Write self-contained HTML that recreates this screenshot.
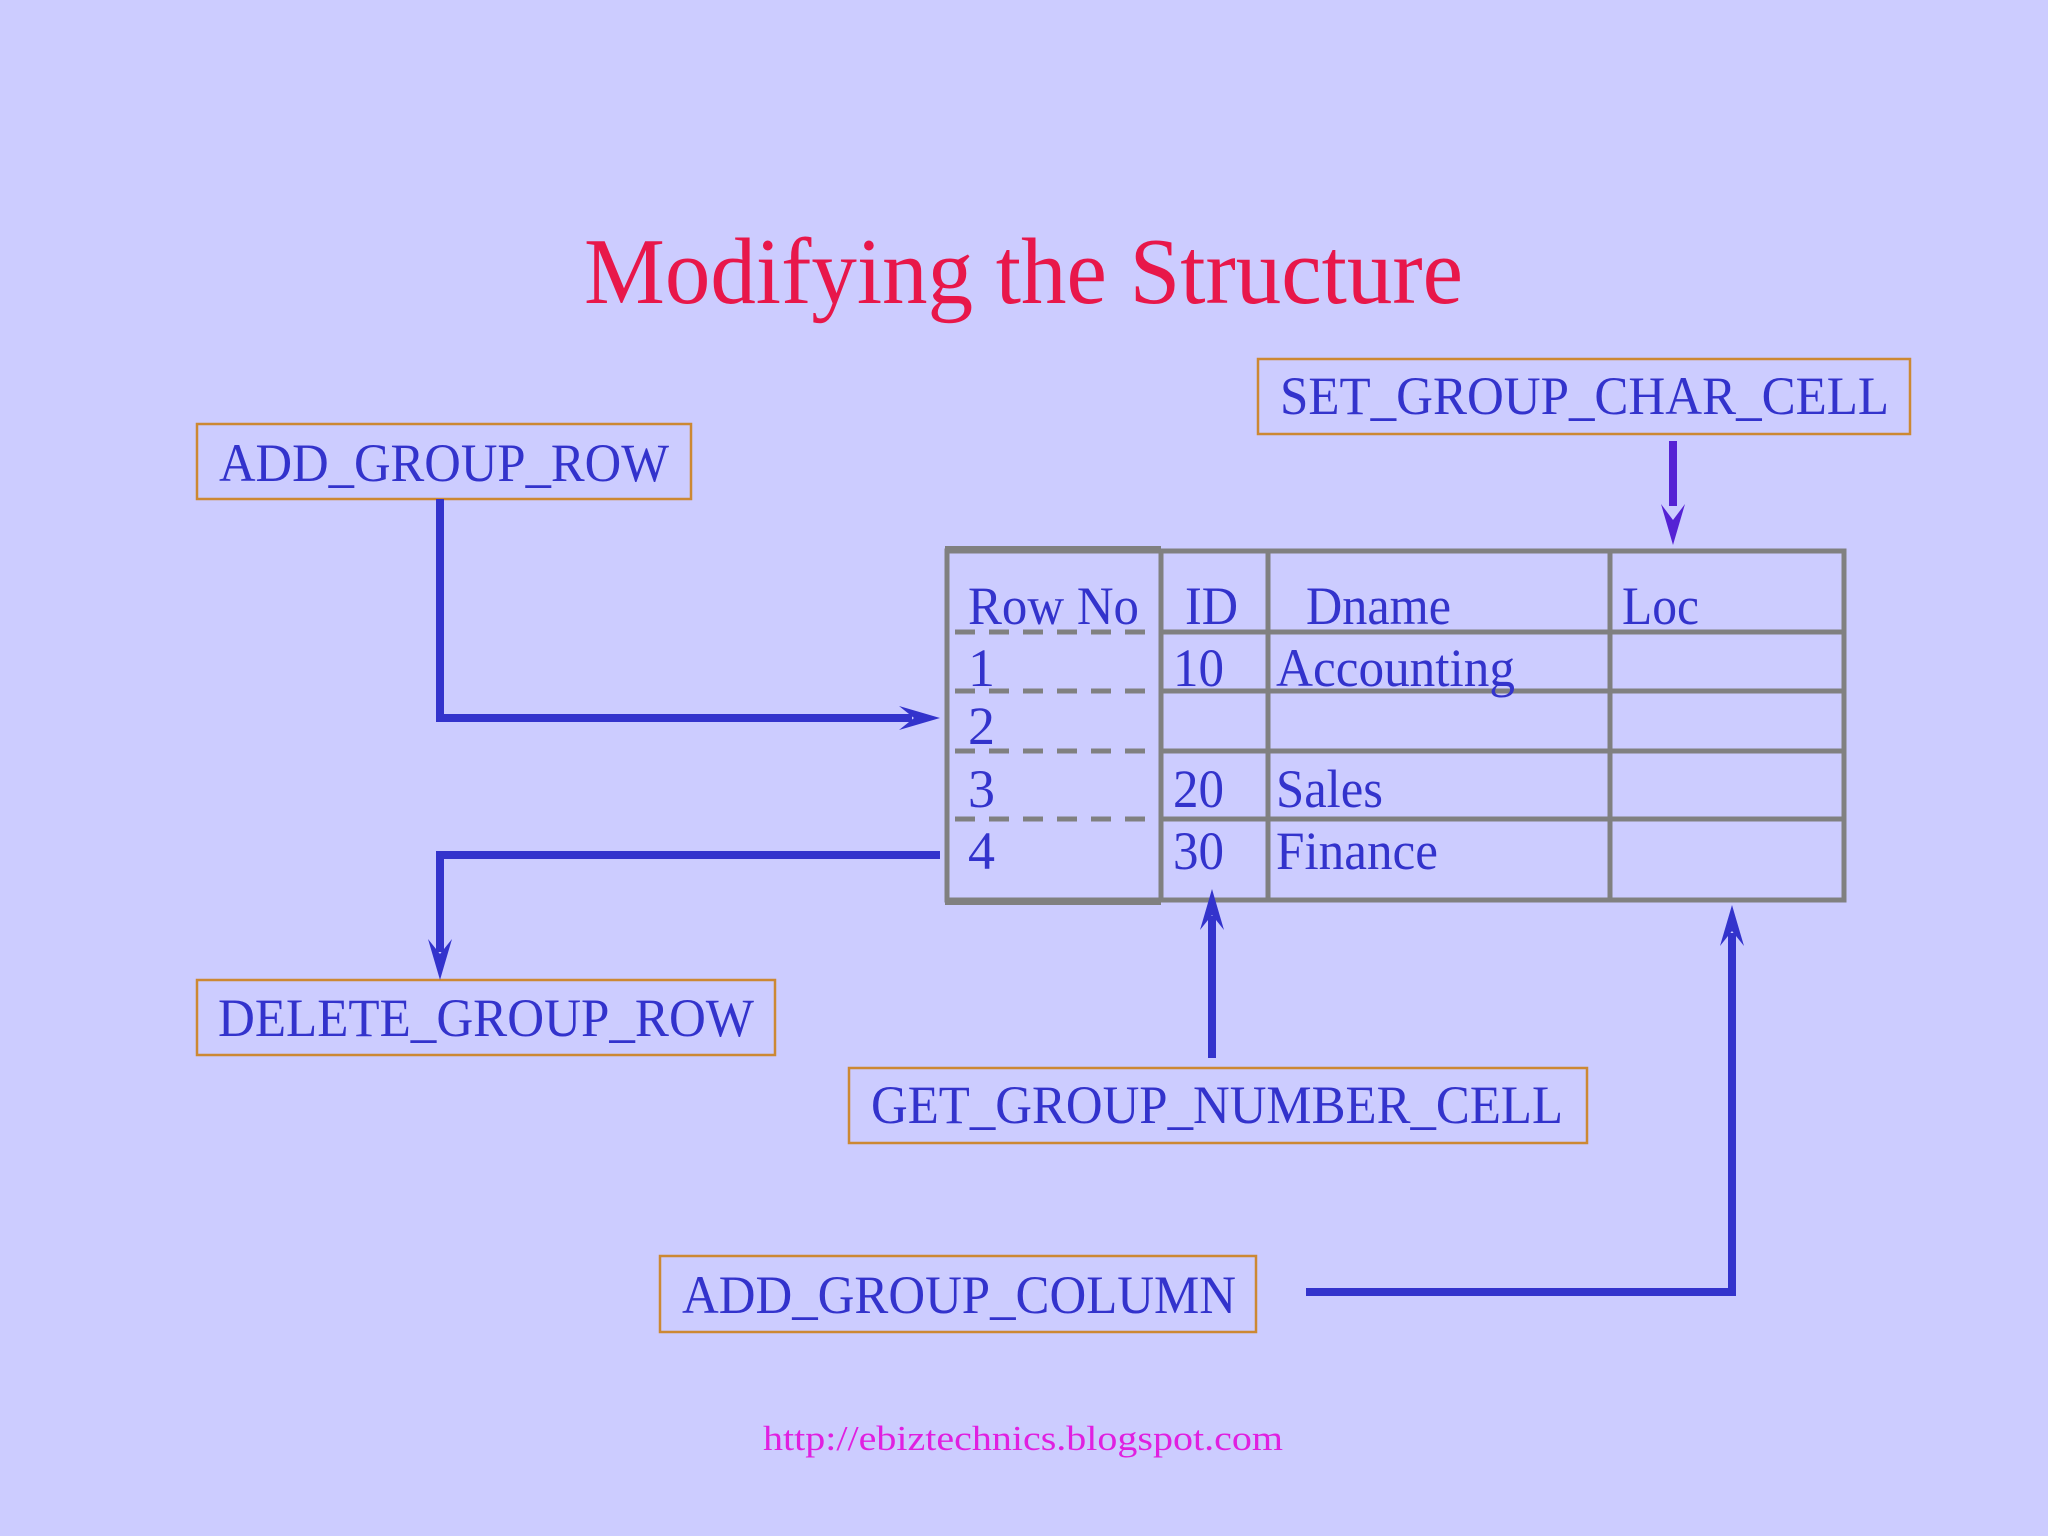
<!DOCTYPE html>
<html><head><meta charset="utf-8"><style>
html,body{margin:0;padding:0;background:#ccccff;}
svg{display:block;}
text{font-family:"Liberation Serif",serif;}
</style></head><body>
<svg width="2048" height="1536" viewBox="0 0 2048 1536" xmlns="http://www.w3.org/2000/svg">
<rect width="2048" height="1536" fill="#ccccff"/>
<text x="584" y="303" font-size="94" fill="#e8174a" textLength="879" lengthAdjust="spacingAndGlyphs">Modifying the Structure</text>

<g fill="none" stroke="#cc8833" stroke-width="2.5">
<rect x="1258" y="359" width="652" height="75"/>
<rect x="197" y="424" width="494" height="75"/>
<rect x="197" y="980" width="578" height="75"/>
<rect x="849" y="1068" width="738" height="75"/>
<rect x="660" y="1256" width="596" height="76"/>
</g>
<g fill="#3333cc" font-size="54">
<text x="1280" y="414" textLength="609" lengthAdjust="spacingAndGlyphs">SET_GROUP_CHAR_CELL</text>
<text x="219" y="481" textLength="450" lengthAdjust="spacingAndGlyphs">ADD_GROUP_ROW</text>
<text x="218" y="1036" textLength="536" lengthAdjust="spacingAndGlyphs">DELETE_GROUP_ROW</text>
<text x="871" y="1123" textLength="692" lengthAdjust="spacingAndGlyphs">GET_GROUP_NUMBER_CELL</text>
<text x="682" y="1313" textLength="554" lengthAdjust="spacingAndGlyphs">ADD_GROUP_COLUMN</text>
</g>

<!-- table -->
<g stroke="#808080" stroke-width="5" fill="none">
<rect x="947" y="551" width="897" height="349"/>
<line x1="945" y1="549" x2="1161" y2="549" stroke-width="6"/>
<line x1="945" y1="902" x2="1161" y2="902" stroke-width="6"/>
<line x1="1161" y1="549" x2="1161" y2="902"/>
<line x1="1268" y1="551" x2="1268" y2="900"/>
<line x1="1610" y1="551" x2="1610" y2="900"/>
<line x1="1161" y1="632" x2="1844" y2="632"/>
<line x1="1161" y1="691" x2="1844" y2="691"/>
<line x1="1161" y1="751" x2="1844" y2="751"/>
<line x1="1161" y1="819" x2="1844" y2="819"/>
<g stroke-dasharray="20 14" stroke-width="5">
<line x1="955" y1="632" x2="1150" y2="632"/>
<line x1="955" y1="691" x2="1150" y2="691"/>
<line x1="955" y1="751" x2="1150" y2="751"/>
<line x1="955" y1="819" x2="1150" y2="819"/>
</g>
</g>
<g fill="#3333cc" font-size="54">
<text x="968" y="624" textLength="171" lengthAdjust="spacingAndGlyphs">Row No</text>
<text x="1185" y="624" textLength="53" lengthAdjust="spacingAndGlyphs">ID</text>
<text x="1306" y="624" textLength="145" lengthAdjust="spacingAndGlyphs">Dname</text>
<text x="1622" y="624" textLength="77" lengthAdjust="spacingAndGlyphs">Loc</text>
<text x="968" y="686">1</text>
<text x="968" y="744">2</text>
<text x="968" y="807">3</text>
<text x="968" y="869">4</text>
<text x="1173" y="686" textLength="51" lengthAdjust="spacingAndGlyphs">10</text>
<text x="1173" y="807" textLength="51" lengthAdjust="spacingAndGlyphs">20</text>
<text x="1173" y="869" textLength="51" lengthAdjust="spacingAndGlyphs">30</text>
<text x="1276" y="686" textLength="239" lengthAdjust="spacingAndGlyphs">Accounting</text>
<text x="1276" y="807" textLength="107" lengthAdjust="spacingAndGlyphs">Sales</text>
<text x="1276" y="869" textLength="162" lengthAdjust="spacingAndGlyphs">Finance</text>
</g>

<!-- connectors -->
<g stroke="#3333cc" stroke-width="8" fill="none">
<polyline points="440,499 440,718 912,718"/>
<polyline points="940,855 440,855 440,952"/>
<polyline points="1212,1058 1212,916"/>
<polyline points="1306,1292 1732,1292 1732,933"/>
</g>
<line x1="1673" y1="441" x2="1673" y2="506" stroke="#5522d4" stroke-width="8"/>
<g fill="#3333cc">
<path d="M940,718 L899,706 L914,718 L899,730 Z"/>
<path d="M440,980 L428,939 L440,954 L452,939 Z"/>
<path d="M1212,889 L1200,930 L1212,915 L1224,930 Z"/>
<path d="M1732,905 L1720,946 L1732,931 L1744,946 Z"/>
</g>
<path d="M1673,545 L1661,504 L1673,520 L1685,504 Z" fill="#5522d4"/>

<text x="1023" y="1450" font-size="35" fill="#e020e0" text-anchor="middle" textLength="520" lengthAdjust="spacingAndGlyphs">http://ebiztechnics.blogspot.com</text>
</svg>
</body></html>
